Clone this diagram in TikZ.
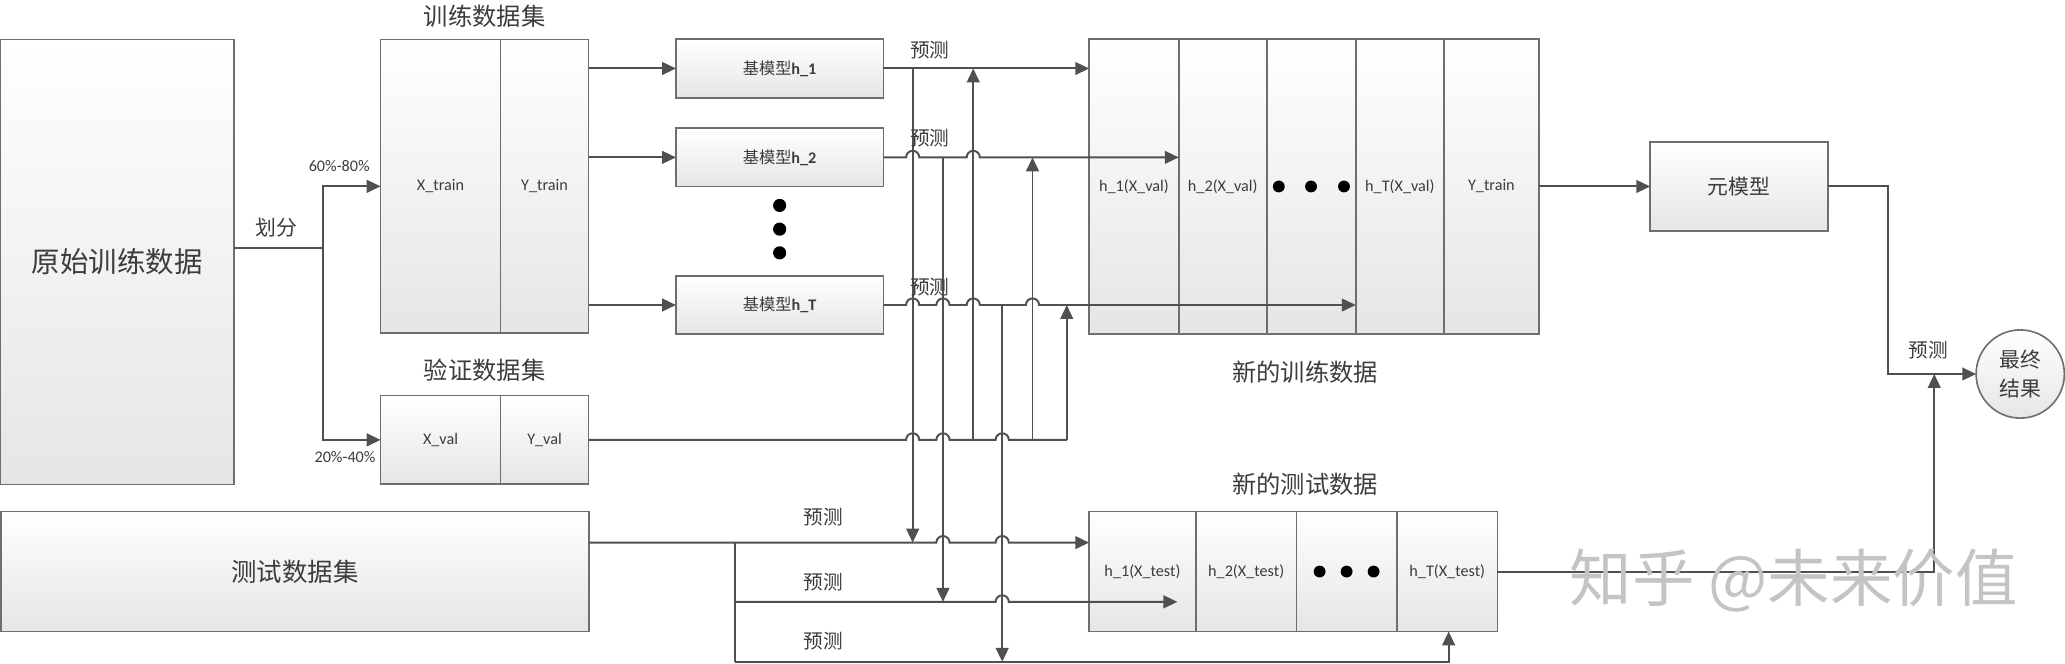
\documentclass[tikz,border=0pt]{standalone}
\usepackage{fontspec}
\setmainfont{Carlito}
\newfontfamily\cjk{Noto Sans CJK SC}
\usetikzlibrary{arrows.meta,positioning}
\definecolor{linec}{HTML}{505050}
\definecolor{boxc}{HTML}{6E6E6E}
\definecolor{txtc}{HTML}{3C3C3C}
\definecolor{markc}{HTML}{C4C4C4}

\tikzset{
  box/.style={draw=boxc, line width=0.7pt, top color=white, bottom color=black!10,
    inner sep=0pt, outer sep=0pt, text=txtc, font=\fontsize{7}{8}\selectfont},
  cjkbox/.style={box, font=\cjk\fontsize{9}{11}\selectfont},
  title/.style={text=txtc, font=\cjk\fontsize{10.5}{12}\selectfont},
  pred/.style={text=txtc, font=\cjk\fontsize{8.5}{10}\selectfont},
  pct/.style={text=txtc, font=\fontsize{7}{8}\selectfont},
  conn/.style={draw=linec, line width=0.85pt},
  arr/.style={conn, -{Triangle[length=6pt,width=5.5pt]}},
}

\begin{document}
\begin{tikzpicture}[x=0.02cm,y=0.02cm]
\useasboundingbox (0,0) rectangle (1568,504);

% data sets
\node[cjkbox, minimum width=3.54cm, minimum height=6.76cm, font=\cjk\fontsize{12.3}{14}\selectfont] (raw) at (89,305) {原始训练数据};

\node[box, minimum width=1.82cm, minimum height=4.46cm] (xtrain) at (334.5,362.5) {X\_train};
\node[box, minimum width=1.34cm, minimum height=4.46cm, right=0pt of xtrain] (ytrain) {Y\_train};
\node[title] (trainlbl) at (368,492) {训练数据集};

\node[box, minimum width=1.82cm, minimum height=1.35cm] (xval) at (334.5,170) {X\_val};
\node[box, minimum width=1.34cm, minimum height=1.35cm, right=0pt of xval] (yval) {Y\_val};
\node[title] (vallbl) at (368,223) {验证数据集};

\node[cjkbox, minimum width=8.93cm, minimum height=1.82cm, font=\cjk\fontsize{11}{13}\selectfont] (test) at (224,70) {测试数据集};

% base models
\foreach \n/\y in {1/452, 2/384.5, T/272.4}{
	\node[box, minimum width=3.15cm, minimum height=0.89cm] (h\n) at (592,\y) {{\cjk 基模型}\textbf{h\_\n}};
}
\foreach \y in {348,330,312}{
	\fill[black] (592,\y) circle[radius=0.1cm];
}

% new training data
\node[box, minimum width=1.36cm, minimum height=4.48cm] (c1) at (861,362.4) {h\_1(X\_val)};
\node[box, minimum width=1.34cm, minimum height=4.48cm, right=0pt of c1] (c2) {h\_2(X\_val)};
\node[box, minimum width=1.35cm, minimum height=4.48cm, right=0pt of c2] (c3) {};
\node[box, minimum width=1.34cm, minimum height=4.48cm, right=0pt of c3] (c4) {h\_T(X\_val)};
\node[box, minimum width=1.44cm, minimum height=4.48cm, right=0pt of c4] (c5) {Y\_train};
\node[title] (newtrainlbl) at (991,221) {新的训练数据};
\foreach \x in {971,995.5,1020.5}{
	\fill[black] (\x,362.4) circle[radius=0.09cm];
}

% new test data
\node[box, minimum width=1.62cm, minimum height=1.82cm] (t1) at (867.5,70) {h\_1(X\_test)};
\node[box, minimum width=1.53cm, minimum height=1.82cm, right=0pt of t1] (t2) {h\_2(X\_test)};
\node[box, minimum width=1.53cm, minimum height=1.82cm, right=0pt of t2] (t3) {};
\node[box, minimum width=1.52cm, minimum height=1.82cm, right=0pt of t3] (t4) {h\_T(X\_test)};
\node[title] (newtestlbl) at (991,136) {新的测试数据};
\foreach \x in {1002,1022.5,1043}{
	\fill[black] (\x,70) circle[radius=0.09cm];
}

% meta model and result
\node[cjkbox, minimum width=2.7cm, minimum height=1.36cm] (meta) at (1320.5,362.4) {元模型};
\node[cjkbox, circle, minimum size=1.34cm, align=center, font=\cjk\fontsize{9}{12.5}\selectfont] (final) at (1534,220) {最终\\结果};

% helper coordinates
\foreach \i/\x in {1/693,2/716,3/739,4/761,5/784,6/810}{
	\coordinate (v\i) at (\x,0);
}
\coordinate (split) at (245,316);
\coordinate (br) at (558,0);
\coordinate (r1) at (0,92);
\coordinate (r2) at (0,47);
\coordinate (r3) at (0,1.5);
\coordinate (r2end) at (894,47);
\coordinate (t3x) at (1100,0);
\coordinate (mx) at (1433.6,0);
\coordinate (tx) at (1468.7,0);

% split
\draw[conn] (raw.east |- split) -- (split);
\draw[arr] (split) |- (xtrain.west);
\draw[arr] (split) |- (xval.west);
\node[pred, font=\cjk\fontsize{9}{10}\selectfont] (splitlbl) at (210,331) {划分};
\node[pct] (pcttrain) at (257.6,378) {60\%-80\%};
\node[pct] (pctval) at (262,157) {20\%-40\%};

% training the base models
\foreach \n in {1,2,T}{
	\draw[arr] (ytrain.east |- h\n.west) -- (h\n.west);
}

% predictions on the validation set
\draw[arr] (h1.east) -- (h1.east -| c1.west);
\draw[arr] (h2.east) foreach \i in {1,3}{ -- ([xshift=-0.1cm]v\i |- h2.east) arc[start angle=180,end angle=0,radius=0.1cm]} -- (h2.east -| c2.west);
\draw[arr] (hT.east) foreach \i in {1,2,3,5}{ -- ([xshift=-0.1cm]v\i |- hT.east) arc[start angle=180,end angle=0,radius=0.1cm]} -- (hT.east -| c4.west);
\draw[conn] (yval.east) foreach \i in {1,2,4}{ -- ([xshift=-0.1cm]v\i |- yval.east) arc[start angle=180,end angle=0,radius=0.1cm]} -- (v6 |- yval.east);

\draw[arr] (v1 |- h1.east) -- (v1 |- r1);
\draw[arr] (v2 |- h2.east) -- (v2 |- r2);
\draw[arr] (v3 |- yval.east) -- (v3 |- h1.east);
\draw[arr] (v4 |- hT.east) -- (v4 |- r3);
\draw[arr] (v5 |- yval.east) -- (v5 |- h2.east);
\draw[arr] (v6 |- yval.east) -- (v6 |- hT.east);

\foreach \y [count=\i] in {466,399,286}{
	\node[pred] (p\i) at (706,\y) {预测};
}

% predictions on the test set
\draw[arr] (test.east |- r1) foreach \i in {2,4}{ -- ([xshift=-0.1cm]v\i |- r1) arc[start angle=180,end angle=0,radius=0.1cm]} -- (t1.west |- r1);
\draw[conn] (br |- r1) -- (br |- r3);
\draw[arr] (br |- r2) foreach \i in {4}{ -- ([xshift=-0.1cm]v\i |- r2) arc[start angle=180,end angle=0,radius=0.1cm]} -- (r2end);
\draw[arr] (br |- r3) -| (t3x |- t4.south);

\foreach \y [count=\i] in {111,62,17}{
	\node[pred] (q\i) at (625,\y) {预测};
}

% meta model
\draw[arr] (c5.east) -- (meta.west);
\draw[arr] (meta.east) -| (mx |- final.west) -- (final.west);
\draw[arr] (t4.east) -| (tx |- final.west);
\node[pred] (pmeta) at (1464,238) {预测};

\node[text=markc, font=\cjk\fontsize{27}{28}\selectfont] (mark) at (1362,63) {知乎 @未来价值};
\end{tikzpicture}
\end{document}
